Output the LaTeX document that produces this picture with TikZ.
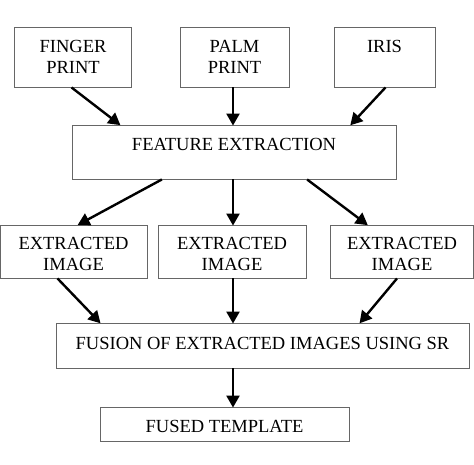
\documentclass[tikz,border=0pt]{standalone}
\usepackage{fontspec}
\setmainfont{Liberation Serif}
\usetikzlibrary{arrows.meta,calc}
\begin{document}
\begin{tikzpicture}[x=1pt,y=-1pt,
  box/.style={draw=black!60,line width=0.9pt,rectangle,inner sep=0pt},
  txt/.style={inner sep=0pt,align=center,font=\fontsize{18.5}{21}\selectfont},
  arr/.style={line width=2.4pt,-{Triangle[length=12pt,width=13pt]},shorten >=-1pt}]
\useasboundingbox (0,0) rectangle (474,464);
% boxes
\node[box,minimum width=117pt,minimum height=60pt] (fp) at (72.5,57) {};
\node[box,minimum width=109pt,minimum height=60pt] (pp) at (234.5,57) {};
\node[box,minimum width=101pt,minimum height=60pt] (ir) at (384.5,57) {};
\node[box,minimum width=324pt,minimum height=54pt] (fe) at (234,152) {};
\node[box,minimum width=147pt,minimum height=53pt] (e1) at (73.5,251.5) {};
\node[box,minimum width=148pt,minimum height=53pt] (e2) at (232,251.5) {};
\node[box,minimum width=143pt,minimum height=53pt] (e3) at (402,251.5) {};
\node[box,minimum width=413pt,minimum height=45pt] (fu) at (262.5,345.5) {};
\node[box,minimum width=249pt,minimum height=34pt] (ft) at (224.5,424) {};
% texts
\node[txt] (tfp) at (73,56.5) {FINGER\\PRINT};
\node[txt] (tpp) at (234.5,56.5) {PALM\\PRINT};
\node[txt] (tir) at (384.5,46) {IRIS};
\node[txt] (tfe) at (234,144.5) {FEATURE EXTRACTION};
\begin{scope}
\clip (0,225) rectangle (474,270.5);
\node[txt] (te1) at (73.5,253.5) {EXTRACTED\\IMAGE};
\node[txt] (te2) at (232,253.5) {EXTRACTED\\IMAGE};
\node[txt] (te3) at (402,253.5) {EXTRACTED\\IMAGE};
\end{scope}
\node[txt] (tfu) at (262.5,343.5) {FUSION OF EXTRACTED IMAGES USING SR};
\node[txt] (tft) at (224.5,426.5) {FUSED TEMPLATE};
% arrows
\draw[arr] ($(fp.south)+(-1,0)$) -- ($(fe.north west)!0.148!(fe.north east)$);
\draw[arr] ($(pp.south)+(-1.5,0)$) -- (fe.north -| 233,0);
\draw[arr] ($(ir.south)+(1,0)$) -- ($(fe.north west)!0.86!(fe.north east)$);
\draw[arr] ($(fe.south west)!0.278!(fe.south east)$) -- ($(e1.north)+(5,0)$);
\draw[arr] (fe.south -| 233,0) -- (e2.north -| 233,0);
\draw[arr] ($(fe.south west)!0.725!(fe.south east)$) -- ($(e3.north)+(-35,0)$);
\draw[arr] ($(e1.south)+(-16,0)$) -- ($(fu.north west)!0.107!(fu.north east)$);
\draw[arr] (e2.south -| 233,0) -- (fu.north -| 233,0);
\draw[arr] ($(e3.south)+(-5,0)$) -- ($(fu.north west)!0.736!(fu.north east)$);
\draw[arr] (fu.south -| 233,0) -- (ft.north -| 233,0);
\end{tikzpicture}
\end{document}
